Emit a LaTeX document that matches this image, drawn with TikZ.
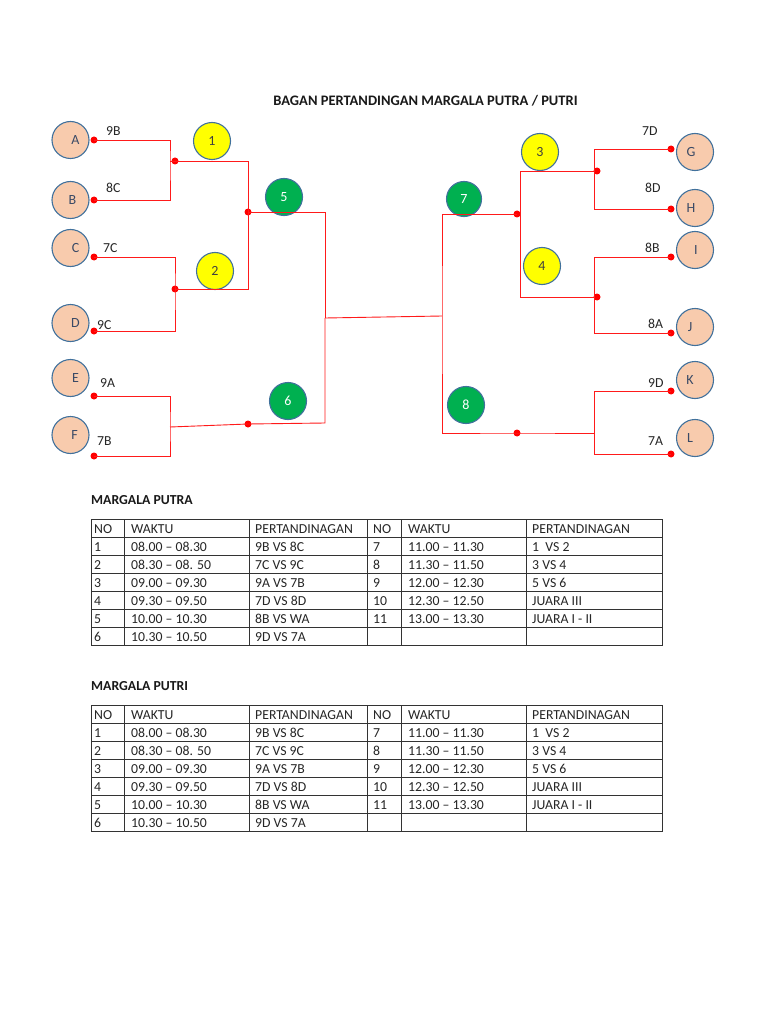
\documentclass[tikz,border=0pt]{standalone}
\usepackage{fontspec}
\setmainfont{Carlito}
\definecolor{peach}{HTML}{F8CBAD}
\definecolor{edge}{HTML}{41719C}
\definecolor{yel}{HTML}{FFFF00}
\definecolor{grn}{HTML}{00B050}
\definecolor{letter}{HTML}{3A4A66}
\definecolor{wirered}{HTML}{FF1A1A}
\begin{document}
\begin{tikzpicture}[x=1pt,y=-1pt,
  team/.style={circle,draw=edge,fill=peach,line width=1.1pt,minimum size=37pt,inner sep=0pt},
  tlet/.style={text=letter,font=\fontsize{14}{16}\selectfont},
  ymatch/.style={circle,draw=edge,fill=yel,line width=1.1pt,minimum size=37pt,inner sep=0pt,text=black!75,font=\fontsize{14}{16}\selectfont},
  gmatch/.style={circle,draw=edge,fill=grn,line width=1.1pt,minimum size=37pt,inner sep=0pt,text=white,font=\fontsize{14}{16}\selectfont},
  dot/.style={circle,fill=red,inner sep=0pt,minimum size=7pt},
  wire/.style={draw=wirered,line width=0.9pt},
  lab/.style={anchor=base west,inner sep=0pt,font=\fontsize{13.75}{16}\selectfont,text=black!85},
  head/.style={anchor=base west,inner sep=0pt,font=\fontsize{13.75}{16}\selectfont\bfseries,text=black!90},
  cell/.style={anchor=base west,inner sep=0pt,font=\fontsize{13.75}{16}\selectfont,text=black!85},
  tbl/.style={draw=black!80,line width=0.8pt}]
\useasboundingbox[fill=white] (0,0) rectangle (768,1024);

% title
\node[head,anchor=base,font=\fontsize{14.5}{17}\selectfont\bfseries] (title) at (425.5,106) {BAGAN PERTANDINGAN MARGALA PUTRA / PUTRI};

% ---------- left teams ----------
\node[team,label={[tlet,xshift=5pt]center:A}] (A) at (70.5,140) {};
\node[team,label={[tlet,xshift=2pt]center:B}] (B) at (70.5,200) {};
\node[team,label={[tlet,xshift=5pt]center:C}] (C) at (70.5,248) {};
\node[team,label={[tlet,xshift=5pt]center:D}] (D) at (70.5,323) {};
\node[team,label={[tlet,xshift=5pt]center:E}] (E) at (70.5,378) {};
\node[team,label={[tlet,xshift=4pt]center:F}] (F) at (70.5,435) {};

% ---------- right teams ----------
\node[team,label={[tlet,xshift=-4pt]center:G}] (G) at (695,152) {};
\node[team,label={[tlet,xshift=-4pt]center:H}] (H) at (695,208) {};
\node[team,label={[tlet,xshift=1pt]center:I}] (I) at (695,250) {};
\node[team,label={[tlet,xshift=-5pt]center:J}] (J) at (695,327) {};
\node[team,label={[tlet,xshift=-5pt]center:K}] (K) at (695,380) {};
\node[team,label={[tlet,xshift=-5pt]center:L}] (L) at (695,438) {};

% ---------- match circles ----------
\node[ymatch] (m1) at (212,141) {1};
\node[ymatch] (m2) at (215,271) {2};
\node[ymatch] (m3) at (540,152) {3};
\node[ymatch] (m4) at (542,266) {4};
\node[gmatch] (m5) at (284,197) {5};
\node[gmatch] (m6) at (288,401) {6};
\node[gmatch,minimum size=35pt] (m7) at (464,199) {7};
\node[gmatch] (m8) at (466,405) {8};

% ---------- dots ----------
\node[dot] (dA) at (94,140) {};
\node[dot] (dB) at (94,200) {};
\node[dot] (dC) at (94,257) {};
\node[dot] (dD) at (94,331) {};
\node[dot] (dE) at (94,396) {};
\node[dot] (dF) at (94,456) {};
\node[dot] (dG) at (671,149) {};
\node[dot] (dH) at (671,209) {};
\node[dot] (dI) at (671,257) {};
\node[dot] (dJ) at (671,333) {};
\node[dot] (dK) at (671,391) {};
\node[dot] (dL) at (671,454) {};
\node[dot] (j1) at (175,161) {};
\node[dot] (j2) at (175,289) {};
\node[dot] (j5) at (248,212) {};
\node[dot] (j6) at (248,424) {};
\node[dot] (j3) at (597,171) {};
\node[dot] (j4) at (597,297) {};
\node[dot] (j7) at (517,214) {};
\node[dot] (j8) at (517,433) {};

% ---------- corner coordinates ----------
\coordinate (cAB) at (170,161);
\coordinate (t5) at (248,161);
\coordinate (b5) at (248,289);
\coordinate (cEF) at (170,427);
\coordinate (cL) at (325,318);
\coordinate (r6) at (325,423);
\coordinate (cGH) at (594,171);
\coordinate (cIJ) at (594,297);
\coordinate (cKL) at (594,433);
\coordinate (t7) at (520,171);
\coordinate (b7) at (520,297);
\coordinate (cR) at (442,316);
\coordinate (rt) at (442,214);
\coordinate (rb) at (442,433);

% ---------- wires left ----------
\draw[wire] (dA.center) -| (cAB) |- (dB.center);
\draw[wire] (cAB) -- (t5) -- (b5) -- (j2.center);
\draw[wire] (dC.center) -| (j2.center) |- (dD.center);
\draw[wire] (j5.center) -| (cL);
\draw[wire] (cL) -- (r6) -- (j6.center) -- (cEF);
\draw[wire] (dE.center) -| (cEF) |- (dF.center);
% centre
\draw[wire] (cL) -- (cR);
% ---------- wires right ----------
\draw[wire] (dG.center) -| (cGH) |- (dH.center);
\draw[wire] (cGH) -- (t7) -- (b7) -- (cIJ);
\draw[wire] (dI.center) -| (cIJ) |- (dJ.center);
\draw[wire] (j7.center) -- (rt) -- (cR) -- (rb) -- (j8.center) -- (cKL);
\draw[wire] (dK.center) -| (cKL) |- (dL.center);

% ---------- labels ----------
\node[lab] (l9B) at (106,136) {9B};
\node[lab] (l8C) at (106,193) {8C};
\node[lab] (l7C) at (103,252) {7C};
\node[lab] (l9C) at (97,329) {9C};
\node[lab] (l9A) at (100,387) {9A};
\node[lab] (l7B) at (97,445) {7B};
\node[lab] (l7D) at (642,136) {7D};
\node[lab] (l8D) at (645,193) {8D};
\node[lab] (l8B) at (645,252) {8B};
\node[lab] (l8A) at (648,328) {8A};
\node[lab] (l9D) at (648,387) {9D};
\node[lab] (l7A) at (648,445) {7A};

% ---------- tables ----------
\foreach \tb/\ty/\ttl in {P/519/MARGALA PUTRA,Q/705/MARGALA PUTRI}{
  \node[head] (h\tb) at (91,\ty-15) {\ttl};
  \draw[tbl] (91,\ty) rectangle (662,\ty+126);
  \foreach \k in {1,...,6} \draw[tbl] (91,\ty+18*\k) -- (662,\ty+18*\k);
  \foreach \cx in {124,249,367,401,526} \draw[tbl] (\cx,\ty) -- (\cx,\ty+126);
  \foreach \a/\b/\c/\d/\e/\f [count=\i from 0] in {
      NO/WAKTU/PERTANDINAGAN/NO/WAKTU/PERTANDINAGAN,
      1/08.00 – 08.30/9B VS 8C/7/11.00 – 11.30/1\ \ VS 2,
      2/08.30 – 08. 50/7C VS 9C/8/11.30 – 11.50/3 VS 4,
      3/09.00 – 09.30/9A VS 7B/9/12.00 – 12.30/5 VS 6,
      4/09.30 – 09.50/7D VS 8D/10/12.30 – 12.50/JUARA III,
      5/10.00 – 10.30/8B VS WA/11/13.00 – 13.30/JUARA I - II,
      6/10.30 – 10.50/9D VS 7A/{}/{}/{}}{
    \node[cell] (\tb a\i) at (94,\ty+14.5+18*\i) {\a};
    \node[cell] (\tb b\i) at (131,\ty+14.5+18*\i) {\b};
    \node[cell] (\tb c\i) at (255,\ty+14.5+18*\i) {\c};
    \node[cell] (\tb d\i) at (373,\ty+14.5+18*\i) {\d};
    \node[cell] (\tb e\i) at (408,\ty+14.5+18*\i) {\e};
    \node[cell] (\tb f\i) at (532,\ty+14.5+18*\i) {\f};
  }
}
\end{tikzpicture}
\end{document}
